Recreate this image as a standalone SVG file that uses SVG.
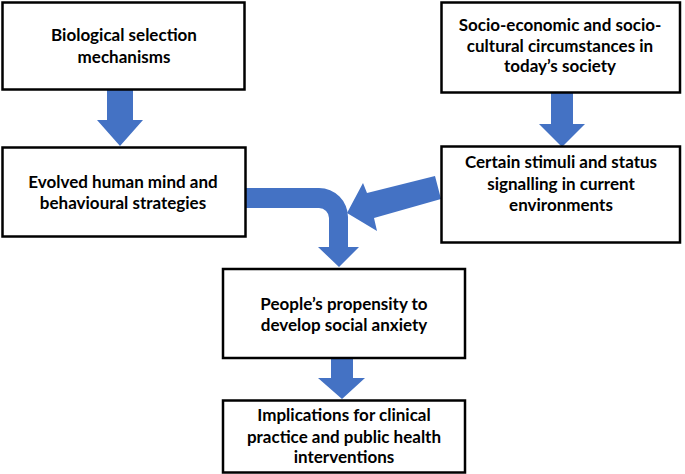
<svg xmlns="http://www.w3.org/2000/svg" width="685" height="474" viewBox="0 0 685 474">
<style>
.box{fill:#fff;stroke:#000;stroke-width:2.5}
.t{font-family:Lato,"Liberation Sans",sans-serif;font-weight:bold;font-size:17px;fill:#000;text-anchor:middle}
.arr{fill:#4472C4;stroke:none}
</style>
<rect width="685" height="474" fill="#fff"/>
<g id="connectors">
<polygon class="arr" points="107,90 133,90 133,120 143,120 120,146 97,120 107,120"/>
<polygon class="arr" points="551,93 573,93 573,124 585,124 562,147 539,124 551,124"/>
<polygon class="arr" points="331,358 353,358 353,378 365,378 342,399 318,378 331,378"/>
<path class="arr" d="M246,188 L319,188 A29,29 0 0 1 348,217 L348,247 L359,247 L339,267 L318,247 L329,247 L329,218 A10,10 0 0 0 319,208 L246,208 Z"/>
<polygon class="arr" points="435,176 367,193 363,183 347,213 377,231 374,218 441,199"/>
</g>
<g id="n1">
<rect class="box" x="2.5" y="2.5" width="242" height="87"/>
<text class="t" x="124" y="41">Biological selection</text>
<text class="t" x="124" y="63">mechanisms</text>
</g>
<g id="n2">
<rect class="box" x="2.5" y="147.5" width="243" height="89"/>
<text class="t" x="123" y="188">Evolved human mind and</text>
<text class="t" x="123" y="209">behavioural strategies</text>
</g>
<g id="n3">
<rect class="box" x="441.5" y="2.5" width="238.5" height="90"/>
<text class="t" x="560" y="31">Socio-economic and socio-</text>
<text class="t" x="560" y="52">cultural circumstances in</text>
<text class="t" x="560" y="72">today’s society</text>
</g>
<g id="n4">
<rect class="box" x="441.5" y="146.5" width="238.5" height="96"/>
<text class="t" x="561" y="168">Certain stimuli and status</text>
<text class="t" x="561" y="190">signalling in current</text>
<text class="t" x="561" y="211">environments</text>
</g>
<g id="n5">
<rect class="box" x="223" y="269" width="242" height="89"/>
<text class="t" x="344" y="310">People’s propensity to</text>
<text class="t" x="344" y="331">develop social anxiety</text>
</g>
<g id="n6">
<rect class="box" x="223" y="400.5" width="242" height="72"/>
<text class="t" x="344" y="421">Implications for clinical</text>
<text class="t" x="344" y="443">practice and public health</text>
<text class="t" x="344" y="463">interventions</text>
</g>
</svg>
